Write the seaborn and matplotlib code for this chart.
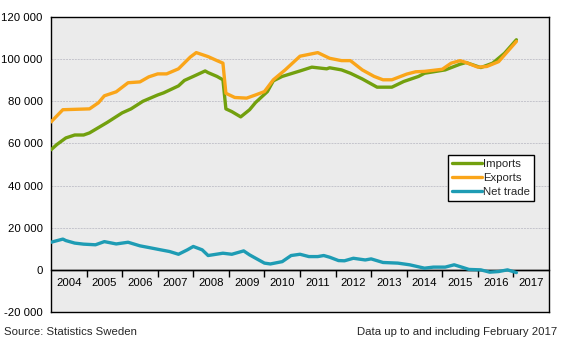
import matplotlib
matplotlib.use("Agg")
import matplotlib.pyplot as plt
import pandas as pd
import seaborn as sns

# ---- data ----
imports_months = ["2004-01", "2004-03", "2004-06", "2004-09", "2004-12", "2005-02", "2005-05",
                  "2005-08", "2006-01", "2006-04", "2006-08", "2007-01", "2007-03", "2007-08",
                  "2007-10", "2008-01", "2008-05", "2008-06", "2008-09", "2008-11", "2008-12",
                  "2009-02", "2009-05", "2009-08", "2009-10", "2010-02", "2010-04", "2010-07",
                  "2011-01", "2011-05", "2011-10", "2011-11", "2012-03", "2012-06", "2012-10",
                  "2013-03", "2013-08", "2013-12", "2014-05", "2014-07", "2015-02", "2015-07",
                  "2015-09", "2016-02", "2016-06", "2016-10", "2017-02"]
imports_values = [57000, 59500, 62600, 64000, 64000, 65000, 67500,
                  70000, 74500, 76400, 80000, 83000, 84000, 87300,
                  89900, 91800, 94400, 93600, 91800, 90200, 76400,
                  75100, 72600, 76000, 79400, 84600, 89700, 91800,
                  94400, 96200, 95400, 95900, 94900, 93300, 90600,
                  86700, 86700, 89400, 91800, 93300, 94900, 97600,
                  98400, 96000, 98100, 102800, 109200]

exports_months = ["2004-01", "2004-05", "2005-02", "2005-05", "2005-07", "2005-11", "2006-03",
                  "2006-07", "2006-10", "2007-01", "2007-04", "2007-08", "2007-12", "2008-02",
                  "2008-06", "2008-09", "2008-11", "2008-12", "2009-03", "2009-07", "2009-10",
                  "2010-01", "2010-04", "2010-08", "2011-01", "2011-07", "2011-11", "2012-03",
                  "2012-06", "2012-10", "2013-02", "2013-05", "2013-08", "2014-01", "2014-04",
                  "2014-07", "2015-01", "2015-04", "2015-07", "2015-09", "2016-01", "2016-04",
                  "2016-08", "2016-11", "2017-02"]
exports_values = [70200, 76000, 76400, 79300, 82600, 84500, 88800,
                  89200, 91600, 93000, 93000, 95400, 101000, 103100,
                  101200, 99300, 98100, 83800, 81800, 81500, 83000,
                  84600, 90200, 94900, 101400, 103100, 100400, 99300,
                  99300, 94900, 91800, 90200, 90200, 92900, 94000,
                  94200, 95200, 98100, 99300, 98400, 96200, 96500,
                  98800, 103600, 108400]

net_months = ["2004-01", "2004-05", "2004-06", "2004-09", "2004-12", "2005-04", "2005-07",
              "2005-11", "2006-03", "2006-07", "2006-10", "2007-02", "2007-05", "2007-08",
              "2007-11", "2008-01", "2008-04", "2008-06", "2008-11", "2009-02", "2009-06",
              "2009-08", "2010-01", "2010-03", "2010-07", "2010-10", "2011-01", "2011-04",
              "2011-07", "2011-09", "2011-11", "2012-02", "2012-04", "2012-07", "2012-11",
              "2013-01", "2013-05", "2013-10", "2014-02", "2014-07", "2014-10", "2015-02",
              "2015-05", "2015-08", "2015-10", "2016-02", "2016-05", "2016-08", "2016-11",
              "2017-02"]
net_values = [13100, 14600, 13900, 12700, 12200, 11900, 13400,
              12300, 13100, 11400, 10600, 9500, 8700, 7400,
              9500, 11100, 9500, 6800, 7900, 7400, 9000,
              7100, 3200, 2800, 3900, 6800, 7400, 6300,
              6300, 6800, 6000, 4400, 4300, 5500, 4700,
              5200, 3500, 3200, 2400, 800, 1300, 1300,
              2400, 1100, 200, 0, -1100, -800, 0,
              -1300]

series_names = ["Imports", "Exports", "Net trade"]
series_colors = ["#72A00E", "#FAA519", "#1E9CB4"]
year_labels = [str(y) for y in range(2004, 2018)]
source_text = "Source: Statistics Sweden"
note_text = "Data up to and including February 2017"


def to_year(m):
    y, mo = m.split("-")
    return int(y) + (int(mo) - 1) / 12.0


frames = []
for name, months, vals in zip(series_names,
                              [imports_months, exports_months, net_months],
                              [imports_values, exports_values, net_values]):
    frames.append(pd.DataFrame({"x": [to_year(m) for m in months],
                                "value": vals, "series": name}))
df = pd.concat(frames, ignore_index=True)

sns.set_style("white")
plt.rcParams["font.family"] = ["Liberation Sans", "DejaVu Sans"]

fig = plt.figure(figsize=(5.68, 3.41), dpi=100)
ax = fig.add_axes([51 / 568, 1 - 312 / 341, 498 / 568, 295 / 341])
ax.set_facecolor("#EBEBEB")

sns.lineplot(data=df, x="x", y="value", hue="series", hue_order=series_names,
             palette=dict(zip(series_names, series_colors)), linewidth=2.4,
             estimator=None, ax=ax, legend=False, zorder=3)
for ln in ax.lines:
    ln.set_solid_capstyle("round")
    ln.set_solid_joinstyle("round")

ax.set_xlim(2004, 2018)
ax.set_ylim(-20000, 120000)
ax.set_yticks(range(-20000, 120001, 20000))
ax.set_yticklabels([f"{v:,}".replace(",", " ") for v in range(-20000, 120001, 20000)])
ax.tick_params(axis="y", length=0, pad=6, labelsize=8.2, labelcolor="black")
ax.set_xticks([])
ax.set_xlabel("")
ax.set_ylabel("")
ax.yaxis.grid(True, color="#C4C4CC", linestyle=(0, (2, 1)), linewidth=0.7)
ax.set_axisbelow(True)
for s in ax.spines.values():
    s.set_visible(True)
    s.set_color("black")
    s.set_linewidth(1.0)

# zero reference line (x axis runs along it)
ax.axhline(0, color="black", linewidth=1.0, zorder=2)

sec = ax.secondary_xaxis(20000 / 140000)
sec.set_xticks(range(2005, 2018))
sec.set_xticklabels([""] * 13)
sec.set_xticks([y + 0.5 for y in range(2004, 2018)], minor=True)
sec.set_xticklabels(year_labels, minor=True)
sec.tick_params(which="major", length=5, width=1, direction="out", color="black")
sec.tick_params(which="minor", length=0, pad=6, labelsize=8.2, labelcolor="black")
sec.spines["bottom"].set_color("black")
sec.spines["bottom"].set_linewidth(1.0)

handles = [plt.Line2D([], [], color=c, linewidth=2.4) for c in series_colors]
leg = ax.legend(handles, series_names, loc="upper left",
                bbox_to_anchor=((448 - 51) / 498, (312 - 155) / 295),
                borderaxespad=0, frameon=True, fancybox=False, framealpha=1,
                edgecolor="black", fontsize=8.2, handlelength=2.6,
                handletextpad=0.15, labelspacing=0.35, borderpad=0.35)
leg.get_frame().set_linewidth(1.0)
leg.set_zorder(5)

fig.text(4 / 568, 1 - 332 / 341, source_text, ha="left", va="center", fontsize=8.2)
fig.text(557 / 568, 1 - 332 / 341, note_text, ha="right", va="center", fontsize=8.2)

fig.savefig("out.png", dpi=100)
